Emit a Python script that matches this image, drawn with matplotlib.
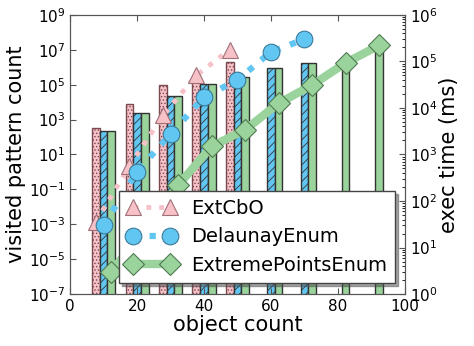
import matplotlib
matplotlib.use('agg')
import matplotlib.pyplot as plt
import numpy as np
from matplotlib.ticker import LogLocator, NullFormatter, NullLocator

plt.rcParams['mathtext.default'] = 'regular'
plt.rcParams['xtick.direction'] = 'in'
plt.rcParams['ytick.direction'] = 'in'
plt.rcParams['hatch.linewidth'] = 0.6

# object counts per experiment group
objects = np.array([10, 20, 30, 40, 50, 60, 70, 80, 90])

# visited pattern counts (bars, left axis)
visited_extcbo = [350, 7600, 9.0e4, 3.0e5, 2.1e6]
visited_delaunay = [230, 2400, 2.2e4, 1.1e5, 2.6e5, 8.7e5, 1.7e6]
visited_extreme = [230, 2400, 2.2e4, 1.1e5, 2.6e5, 8.7e5, 1.7e6, 3.0e6, 1.0e7]

# execution time in ms (lines, right axis)
time_extcbo = [36, 560, 6900, 5.0e4, 1.8e5]
time_delaunay = [30, 430, 2750, 1.7e4, 4.0e4, 1.6e5, 3.0e5]
time_extreme = [3, 25, 220, 1500, 3400, 1.26e4, 3.1e4, 9.3e4, 2.2e5]

labels = ['ExtCbO', 'DelaunayEnum', 'ExtremePointsEnum']
pink = '#f7c1c8'
blue = '#62c6f2'
green = '#9ad39b'
edge = '#333333'
w = 2.3

fig = plt.figure(figsize=(4.74, 3.46), dpi=100)
ax = fig.add_axes([0.148, 0.150, 0.706, 0.807])
ax.set_yscale('log')

n1, n2, n3 = len(visited_extcbo), len(visited_delaunay), len(visited_extreme)
ax.bar(objects[:n1] - w, visited_extcbo, w, color=pink, edgecolor='#7a4a50',
       hatch='.....', linewidth=1)
ax.bar(objects[:n2], visited_delaunay, w, color=blue, edgecolor=edge,
       hatch='////', linewidth=1)
ax.bar(objects[:n3] + w, visited_extreme, w, color=green, edgecolor=edge,
       linewidth=1)

ax.set_xlim(0, 100)
ax.set_ylim(1e-7, 1e9)
ax.set_xticks([0, 20, 40, 60, 80, 100])
ax.set_yticks([10.0 ** e for e in range(-7, 10, 2)])
ax.yaxis.set_minor_locator(NullLocator())
ax.tick_params(labelsize=11, top=True, length=4, color='#555555')
ax.set_xlabel('object count', fontsize=15, labelpad=1)
ax.set_ylabel('visited pattern count', fontsize=15, labelpad=2)
for s in ax.spines.values():
    s.set_color('#555555')

ax2 = ax.twinx()
ax2.set_yscale('log')
ax2.plot(objects[:n1] - w, time_extcbo, ':', color=pink, lw=3.5, marker='^',
         ms=12, mfc=pink, mec='#a07078', mew=0.8, label=labels[0])
ax2.plot(objects[:n2], time_delaunay, ':', color=blue, lw=4.5, marker='o',
         ms=12, mfc=blue, mec='#3a7a98', mew=0.8, label=labels[1])
ax2.plot(objects[:n3] + w, time_extreme, '-', color=green, lw=6, marker='D',
         ms=11, mfc=green, mec='#4f7a50', mew=0.8, label=labels[2])
ax2.set_ylim(1, 1e6)
ax2.yaxis.set_major_locator(LogLocator(base=10, numticks=10))
ax2.yaxis.set_minor_locator(LogLocator(base=10, subs=np.arange(2, 10), numticks=10))
ax2.yaxis.set_minor_formatter(NullFormatter())
ax2.tick_params(labelsize=11, length=4, color='#555555')
ax2.tick_params(which='minor', length=2)
ax2.set_ylabel('exec time (ms)', fontsize=15, labelpad=1)
for s in ax2.spines.values():
    s.set_color('#555555')

leg = ax2.legend(loc='lower right', bbox_to_anchor=(0.97, 0.04), borderaxespad=0,
                 fontsize=14, numpoints=2, handlelength=2.5, fancybox=False,
                 shadow=True, framealpha=1)
leg.get_frame().set_edgecolor('#444444')

plt.savefig('out.png', dpi=100)
